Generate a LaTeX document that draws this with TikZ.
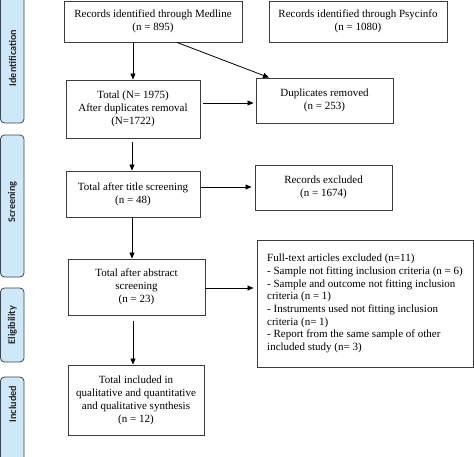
\documentclass[tikz,border=0pt]{standalone}
\usepackage{fontspec}
\setmainfont{Liberation Serif}
\newfontfamily\bandfont{Carlito}
\usetikzlibrary{arrows.meta,calc}
\definecolor{bandfill}{RGB}{206,232,250}
\definecolor{bandline}{RGB}{62,68,78}
\definecolor{boxline}{RGB}{60,60,60}
\begin{document}
\begin{tikzpicture}[x=1pt,y=-1pt,
  box/.style={draw=boxline,line width=0.9pt,inner sep=0pt,align=center,
    font=\fontsize{11}{13}\selectfont},
  arr/.style={draw=black,line width=0.8pt,-{Triangle[length=6pt,width=5pt]}},
  band/.style={draw=bandline,fill=bandfill,line width=0.8pt,rounded corners=4pt},
  bandtext/.style={rotate=90,font=\bandfont\fontsize{10.2}{12}\selectfont\bfseries,text=black!85}]
\useasboundingbox (0,0) rectangle (474,456);
% phase bands
\draw[band] (0.5,-10) rectangle (24,123);
\draw[band] (0.5,135) rectangle (24,277);
\draw[band] (0.5,288) rectangle (24,362);
\draw[band] (0.5,377) rectangle (24,470);
\node[bandtext] (lid) at (12.5,58) {Identification};
\node[bandtext] (lsc) at (12.5,202) {Screening};
\node[bandtext] (lel) at (12.5,325) {Eligibility};
\node[bandtext] (lin) at (12.5,404) {Included};
% boxes
\node[box,minimum width=178pt,minimum height=41pt] (med) at (153,21.5)
  {Records identified through Medline\\(n = 895)};
\node[box,minimum width=178pt,minimum height=41pt] (psy) at (358,21.5)
  {Records identified through Psycinfo\\(n = 1080)};
\node[box,minimum width=134pt,minimum height=58pt] (tot) at (133,109)
  {Total (N= 1975)\\After duplicates removal\\(N=1722)};
\node[box,minimum width=137pt,minimum height=45pt] (dup) at (324.5,100.5)
  {Duplicates removed\\(n = 253)};
\node[box,minimum width=134pt,minimum height=46pt] (tit) at (133,194)
  {Total after title screening\\(n = 48)};
\node[box,minimum width=137pt,minimum height=45pt] (rex) at (323.5,187.5)
  {Records excluded\\(n = 1674)};
\node[box,minimum width=137pt,minimum height=56pt] (abs) at (136.5,287)
  {Total after abstract\\screening\\(n = 23)};
\node[box,minimum width=216pt,minimum height=127pt,align=left,
  font=\fontsize{11}{12.7}\selectfont] (ful) at (365,303.5)
  {Full-text articles excluded (n=11)\\- Sample not fitting inclusion criteria (n = 6)\\- Sample and outcome not fitting inclusion\\criteria (n = 1)\\- Instruments used not fitting inclusion\\criteria (n= 1)\\- Report from the same sample of other\\included study (n= 3)};
\node[box,minimum width=136pt,minimum height=70pt] (inc) at (136,400)
  {Total included in\\qualitative and quantitative\\and qualitative synthesis\\(n = 12)};
% connector anchor points
\coordinate (totE) at ([yshift=6pt]tot.east);
\coordinate (titE) at ([yshift=7pt]tit.east);
\coordinate (absE) at ([yshift=-1pt]abs.east);
% connectors
\draw[arr] (tot.north |- med.south) -- (tot.north);
\draw[arr] ([xshift=24pt]med.south) -- ([xshift=-55.5pt]dup.north);
\draw[arr,shorten <=3pt,shorten >=2pt] (totE) -- (dup.west |- totE);
\draw[arr,shorten <=4pt] ([xshift=-1pt]tit.north |- tot.south) -- ([xshift=-1pt]tit.north);
\draw[arr,shorten <=1pt,shorten >=3pt] (titE) -- (rex.west |- titE);
\draw[arr] ([xshift=-1pt]tit.south) -- ([xshift=-1pt]tit.south |- abs.north);
\draw[arr,shorten >=3pt] (absE) -- (ful.west |- absE);
\draw[arr,shorten <=6pt] ([xshift=-3pt]inc.north |- abs.south) -- ([xshift=-3pt]inc.north);
\end{tikzpicture}
\end{document}
